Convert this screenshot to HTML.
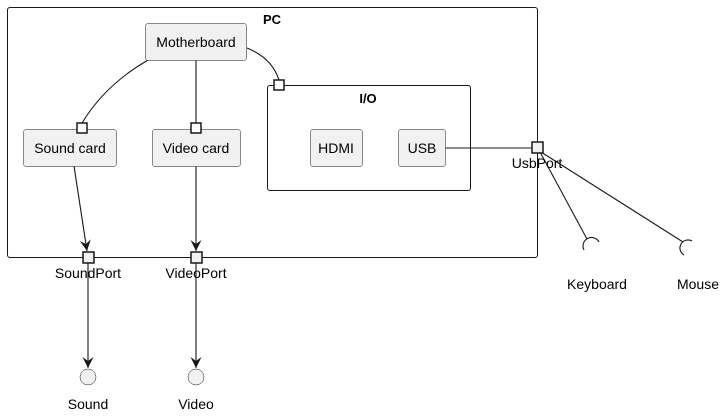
<!DOCTYPE html>
<html><head><meta charset="utf-8"><style>
html,body{margin:0;padding:0;background:#fff;}
svg{display:block;}
text{font-family:"Liberation Sans",sans-serif;font-size:14px;fill:#000;}
.b{font-weight:bold;font-size:13px;}
.box{fill:#f1f1f1;stroke:#181818;stroke-width:0.5;}
.port{fill:#f1f1f1;stroke:#181818;stroke-width:1.5;}
.ln{stroke:#181818;stroke-width:1.1;fill:none;}
</style></head><body>
<svg width="726" height="416" viewBox="0 0 726 416" xmlns="http://www.w3.org/2000/svg">
<defs><marker id="a" markerWidth="12" markerHeight="12" refX="11" refY="5.5" orient="auto" markerUnits="userSpaceOnUse"><path d="M0,0 L11,5.5 L0,11 L4,5.5 Z" fill="#181818"/></marker></defs>
<rect x="7.5" y="7.5" width="530" height="250" rx="2.5" fill="#fff" stroke="#181818" stroke-width="1"/>
<text x="272" y="24" class="b" text-anchor="middle">PC</text>
<rect x="267.5" y="85.5" width="203" height="105" rx="2.5" fill="#fff" stroke="#181818" stroke-width="1"/>
<text x="368" y="103" class="b" text-anchor="middle">I/O</text>
<path class="ln" d="M148,60 Q105,85 82,123"/>
<path class="ln" d="M196,60 L196,123"/>
<path class="ln" d="M247,48 Q272,58 279,80"/>
<path class="ln" d="M445,148 L532,148"/>
<path class="ln" d="M74,166 L87,251" marker-end="url(#a)"/>
<path class="ln" d="M196,166 L196,251" marker-end="url(#a)"/>
<path class="ln" d="M88,262 L88,368" marker-end="url(#a)"/>
<path class="ln" d="M196,262 L196,368" marker-end="url(#a)"/>
<path class="ln" d="M540,152 L587,239"/>
<path class="ln" d="M541,152 L683,242"/>
<path class="ln" d="M584,250 A7,7 0 0 1 599,242"/>
<path class="ln" d="M684,255 A7,7 0 0 1 692,241"/>
<rect class="box" x="145.5" y="23.5" width="101" height="37" rx="2.5"/>
<text x="196" y="47" text-anchor="middle">Motherboard</text>
<rect class="box" x="23.5" y="129.5" width="93" height="37" rx="2.5"/>
<text x="70" y="153" text-anchor="middle">Sound card</text>
<rect class="box" x="152.5" y="129.5" width="88" height="37" rx="2.5"/>
<text x="196" y="153" text-anchor="middle">Video card</text>
<rect class="box" x="310.5" y="129.5" width="52" height="37" rx="2.5"/>
<text x="336" y="153" text-anchor="middle">HDMI</text>
<rect class="box" x="398.5" y="129.5" width="47" height="37" rx="2.5"/>
<text x="422" y="153" text-anchor="middle">USB</text>
<rect x="274" y="80" width="10" height="10" fill="#fff" stroke="#181818" stroke-width="1.5"/>
<rect x="77" y="123" width="10" height="10" fill="#fff" stroke="#181818" stroke-width="1.5"/>
<rect x="191" y="123" width="10" height="10" fill="#fff" stroke="#181818" stroke-width="1.5"/>
<rect class="port" x="83" y="252" width="11" height="11"/>
<rect class="port" x="191" y="252" width="11" height="11"/>
<rect class="port" x="532" y="142" width="11" height="11"/>
<text x="88" y="278" text-anchor="middle">SoundPort</text>
<text x="196" y="278" text-anchor="middle">VideoPort</text>
<text x="537" y="168" text-anchor="middle">UsbPort</text>
<circle cx="88" cy="377" r="8" fill="#f1f1f1" stroke="#181818" stroke-width="0.5"/>
<circle cx="196" cy="377" r="8" fill="#f1f1f1" stroke="#181818" stroke-width="0.5"/>
<text x="88" y="409" text-anchor="middle">Sound</text>
<text x="196" y="409" text-anchor="middle">Video</text>
<text x="597" y="289" text-anchor="middle">Keyboard</text>
<text x="698" y="289" text-anchor="middle">Mouse</text>
</svg>
</body></html>
